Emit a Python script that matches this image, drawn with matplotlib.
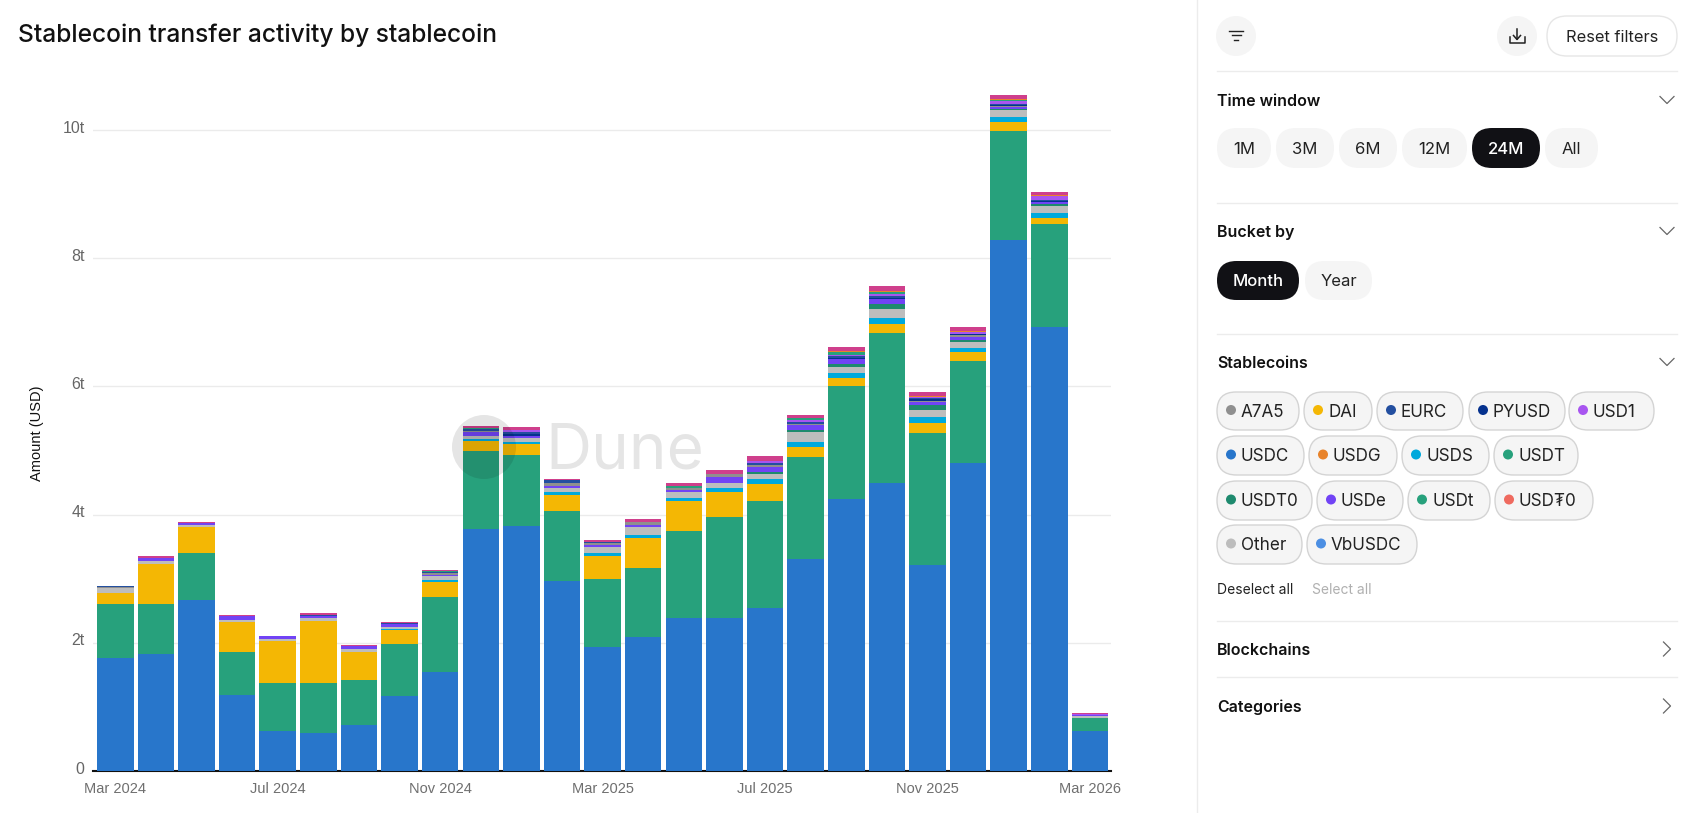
import matplotlib
matplotlib.use("Agg")
import matplotlib.pyplot as plt
from matplotlib.patches import FancyBboxPatch, Circle
from matplotlib.transforms import ScaledTranslation
import numpy as np

W, H = 1696, 813

months = ["Mar 2024", "Apr 2024", "May 2024", "Jun 2024", "Jul 2024", "Aug 2024", "Sep 2024", "Oct 2024", "Nov 2024",
          "Dec 2024", "Jan 2025", "Feb 2025", "Mar 2025", "Apr 2025", "May 2025", "Jun 2025", "Jul 2025", "Aug 2025",
          "Sep 2025", "Oct 2025", "Nov 2025", "Dec 2025", "Jan 2026", "Feb 2026", "Mar 2026"]

# all values in trillions of USD
usdc = [1.76, 1.82, 2.67, 1.18, 0.63, 0.59, 0.71, 1.17, 1.54, 3.77, 3.82, 2.97, 1.93, 2.09, 2.39, 2.39, 2.55, 3.31, 4.24, 4.49, 3.22, 4.80, 8.29, 6.93, 0.63]
usdt = [0.84, 0.78, 0.73, 0.68, 0.74, 0.79, 0.71, 0.81, 1.17, 1.22, 1.11, 1.08, 1.06, 1.08, 1.35, 1.57, 1.66, 1.59, 1.76, 2.35, 2.06, 1.60, 1.69, 1.60, 0.19]
dai = [0.18, 0.63, 0.40, 0.47, 0.66, 0.96, 0.44, 0.22, 0.245, 0.16, 0.17, 0.26, 0.36, 0.47, 0.47, 0.39, 0.265, 0.15, 0.135, 0.14, 0.146, 0.135, 0.14, 0.10, 0.01]
usds = [0, 0, 0, 0, 0, 0, 0, 0.01, 0.03, 0.03, 0.03, 0.04, 0.05, 0.04, 0.05, 0.06, 0.08, 0.08, 0.08, 0.085, 0.09, 0.07, 0.09, 0.08, 0]
other = [0.07, 0.05, 0.035, 0.03, 0.03, 0.04, 0.04, 0.04, 0.05, 0.05, 0.07, 0.07, 0.10, 0.13, 0.10, 0.09, 0.085, 0.155, 0.085, 0.135, 0.12, 0.09, 0.10, 0.10, 0.03]
usdt0 = [0, 0, 0, 0, 0, 0, 0, 0, 0, 0, 0, 0, 0, 0, 0, 0, 0.02, 0.035, 0.05, 0.09, 0.07, 0.03, 0.02, 0.03, 0]
usde = [0.01, 0.05, 0.03, 0.06, 0.04, 0.04, 0.05, 0.04, 0.03, 0.06, 0.03, 0.03, 0.02, 0.03, 0.03, 0.09, 0.09, 0.08, 0.08, 0.07, 0.05, 0.05, 0.03, 0.03, 0.01]
a7a5 = [0.01, 0, 0, 0, 0, 0, 0, 0, 0.02, 0.02, 0, 0.04, 0.03, 0.05, 0.03, 0.04, 0.03, 0.02, 0, 0, 0.02, 0.02, 0.02, 0.01, 0]
pyusd = [0, 0, 0, 0, 0, 0, 0, 0, 0, 0, 0.02, 0, 0, 0, 0, 0.01, 0, 0, 0.02, 0.02, 0.03, 0.02, 0.01, 0.02, 0]
eurc = [0.01, 0, 0, 0, 0, 0.02, 0, 0.02, 0.02, 0.02, 0.04, 0.05, 0.03, 0, 0, 0, 0.02, 0.02, 0.02, 0.03, 0.01, 0, 0.02, 0.01, 0]
usd1 = [0, 0, 0, 0, 0, 0, 0, 0, 0, 0, 0.03, 0, 0, 0, 0, 0, 0.03, 0.03, 0.02, 0.03, 0.02, 0.03, 0.05, 0.06, 0.02]
usdt_lower = [0, 0, 0, 0, 0, 0, 0, 0, 0.02, 0.02, 0, 0, 0, 0, 0.02, 0, 0, 0.03, 0.04, 0.03, 0, 0, 0.01, 0, 0]
usdg = [0, 0, 0, 0, 0, 0, 0, 0, 0, 0, 0, 0, 0, 0, 0, 0, 0, 0, 0.03, 0.02, 0.02, 0.02, 0.02, 0.02, 0]
usd_t0 = [0.01, 0.03, 0.025, 0.02, 0.01, 0.02, 0.02, 0.02, 0.015, 0.04, 0.04, 0.02, 0.02, 0.04, 0.06, 0.06, 0.08, 0.05, 0.06, 0.07, 0.05, 0.055, 0.05, 0.05, 0.01]

stack = [usdc, usdt, dai, usds, other, usdt0, usde, a7a5, pyusd, eurc, usd1, usdt_lower, usdg, usd_t0]
stack_colors = ["#2876cb", "#27a17c", "#f4b704", "#00a9dc", "#bdbdbd", "#1e8a6e", "#7143f5", "#8f8f8f", "#05318e", "#234fa0",
                "#a855f0", "#27a17c", "#e8832a", "#cf3f8c"]

yticks = [0, 2, 4, 6, 8, 10]
ytick_labels = ["0", "2t", "4t", "6t", "8t", "10t"]
xtick_idx = [0, 4, 8, 12, 16, 20, 24]

time_pills = ["1M", "3M", "6M", "12M", "24M", "All"]
bucket_pills = ["Month", "Year"]
coin_rows = [
    [("A7A5", "#8f8f8f"), ("DAI", "#f4b704"), ("EURC", "#234fa0"), ("PYUSD", "#05318e"), ("USD1", "#a855f0")],
    [("USDC", "#2876cb"), ("USDG", "#e8832a"), ("USDS", "#00a9dc"), ("USDT", "#27a17c")],
    [("USDT0", "#1e8a6e"), ("USDe", "#7143f5"), ("USDt", "#27a17c"), ("USD₮0", "#ef6a5f")],
    [("Other", "#bdbdbd"), ("VbUSDC", "#4c8fe3")],
]

plt.rcParams["font.family"] = ["Inter", "DejaVu Sans"]
fig = plt.figure(figsize=(W / 100, H / 100), dpi=100, facecolor="white")

# chart axes, placed in pixels
left, right, top, bottom = 93, 1111, 90, 771
ax = fig.add_axes([left / W, 1 - bottom / H, (right - left) / W, (bottom - top) / H])
ax.set_xlim(-0.55, 24.52)
ax.set_ylim(0, (bottom - top) / 64.1)

x = np.arange(len(months))
base = np.zeros(len(months))
for vals, c in zip(stack, stack_colors):
    vals = np.array(vals, dtype=float)
    ax.bar(x, vals, bottom=base, width=0.9, color=c, linewidth=0, zorder=3)
    base = base + vals

for s in ["top", "right", "left"]:
    ax.spines[s].set_visible(False)
ax.spines["bottom"].set_color("#111111")
ax.spines["bottom"].set_linewidth(1.5)
ax.set_yticks(yticks)
ax.set_yticklabels(ytick_labels, family="Liberation Sans", fontsize=11.5, color="#666666", va="center")
ax.set_xticks(xtick_idx)
ax.set_xticklabels([months[i] for i in xtick_idx], family="Liberation Sans", fontsize=10.5, color="#6f6f6f")
ax.tick_params(axis="both", length=0)
ax.tick_params(axis="y", pad=6)
ax.tick_params(axis="x", pad=8)
# tick labels sit a little above their gridlines
nudge = ScaledTranslation(0, 2 / 100, fig.dpi_scale_trans)
for lab in ax.get_yticklabels():
    lab.set_transform(lab.get_transform() + nudge)
ax.grid(axis="y", color="#ebebeb", linewidth=1, zorder=0)
ax.set_axisbelow(True)

# overlay for the title, watermark and side panel, in pixels
ui = fig.add_axes([0, 0, 1, 1], facecolor="none")
ui.set_xlim(0, W)
ui.set_ylim(H, 0)
ui.axis("off")

ui.text(18, 35, "Stablecoin transfer activity by stablecoin", fontsize=17.7, color="#111111", va="center", fontweight="medium")
ui.text(37, 433, "Amount (USD)", rotation=90, family="Liberation Sans", fontsize=10.5, color="#111111", va="center", ha="center")

# Dune watermark
ui.add_patch(Circle((484, 447), 32, color="black", alpha=0.1, lw=0))
ui.text(545, 452, "Dune", fontsize=46, color="black", alpha=0.1, va="center", ha="left", family="Inter")

# panel
ui.plot([1197, 1197], [0, H], color="#ececec", lw=1)


def pill(x0, x1, y0, y1, face="#f5f5f5", edge="none", lw=0):
    r = (y1 - y0) / 2
    ui.add_patch(FancyBboxPatch((x0 + r, y0 + r), x1 - x0 - 2 * r, 0.001, boxstyle="round,pad=%f,rounding_size=%f" % (r, r),
                                facecolor=face, edgecolor=edge, linewidth=lw, mutation_aspect=1))


def chevron_down(cx, cy):
    ui.plot([cx - 7, cx, cx + 7], [cy - 3.5, cy + 3.5, cy - 3.5], color="#666666", lw=0.9)


def chevron_right(cx, cy):
    ui.plot([cx - 3.5, cx + 3.5, cx - 3.5], [cy - 7, cy, cy + 7], color="#666666", lw=0.9)


for yy in [71, 203, 334, 621, 677]:
    ui.plot([1217, 1677], [yy, yy], color="#ececec", lw=1)

# top buttons
ui.add_patch(Circle((1236, 36), 20, color="#f5f5f5", lw=0))
ui.add_patch(Circle((1517, 36), 20, color="#f5f5f5", lw=0))
for hw, yy in [(7, 31), (4.5, 35.5), (2, 40)]:
    ui.plot([1236 - hw, 1236 + hw], [yy, yy], color="#222222", lw=1)
ui.plot([1517, 1517], [29, 39], color="#222222", lw=1.1)
ui.plot([1513.5, 1517, 1520.5], [35.5, 39.5, 35.5], color="#222222", lw=1.1)
ui.plot([1509.5, 1509.5, 1524.5, 1524.5], [37, 43, 43, 37], color="#222222", lw=1.1)
pill(1547, 1677, 16, 56, face="white", edge="#e6e6e6", lw=1)
ui.text(1612, 37.5, "Reset filters", fontsize=11.8, color="#222222", ha="center", va="center")

for txt, yy in [("Time window", 100), ("Bucket by", 231), ("Stablecoins", 362), ("Blockchains", 649), ("Categories", 706)]:
    ui.text(1217, yy + 1, txt, fontsize=11.5, color="#111111", va="center", fontweight="semibold")
for yy in [100, 231, 362]:
    chevron_down(1667, yy)
for yy in [649, 706]:
    chevron_right(1667, yy)

time_x = [(1217, 1271), (1276, 1334), (1339, 1397), (1402, 1467), (1472, 1540), (1545, 1598)]
for txt, (x0, x1) in zip(time_pills, time_x):
    on = txt == "24M"
    pill(x0, x1, 128, 168, face="#111115" if on else "#f5f5f5")
    ui.text((x0 + x1) / 2, 149, txt, fontsize=12, color="white" if on else "#222222", ha="center", va="center",
            fontweight="medium" if on else "normal")

bucket_x = [(1217, 1299), (1305, 1372)]
for txt, (x0, x1) in zip(bucket_pills, bucket_x):
    on = txt == "Month"
    pill(x0, x1, 261, 300, face="#111115" if on else "#f5f5f5")
    ui.text((x0 + x1) / 2, 281, txt, fontsize=12, color="white" if on else "#222222", ha="center", va="center",
            fontweight="medium" if on else "normal")

row_y = [(392, 430), (436, 475), (481, 520), (525, 564)]
row_x = [
    [(1217, 1299), (1304, 1372), (1377, 1463), (1469, 1565), (1569, 1654)],
    [(1217, 1304), (1309, 1397), (1402, 1489), (1494, 1578)],
    [(1217, 1312), (1317, 1403), (1408, 1490), (1495, 1593)],
    [(1217, 1302), (1307, 1417)],
]
for coins, xs, (y0, y1) in zip(coin_rows, row_x, row_y):
    for (name, c), (x0, x1) in zip(coins, xs):
        pill(x0, x1, y0, y1, face="#f5f5f5", edge="#d4d4d4", lw=1)
        cy = (y0 + y1) / 2
        ui.add_patch(Circle((x0 + 14, cy - 1), 5, color=c, lw=0))
        ui.text(x0 + 24, cy + 1, name, fontsize=12.3, color="#222222", ha="left", va="center")

ui.text(1217, 590, "Deselect all", fontsize=10, color="#222222", va="center")
ui.text(1312, 590, "Select all", fontsize=10, color="#b0b0b0", va="center")

fig.savefig("out.png", dpi=100, facecolor="white")
